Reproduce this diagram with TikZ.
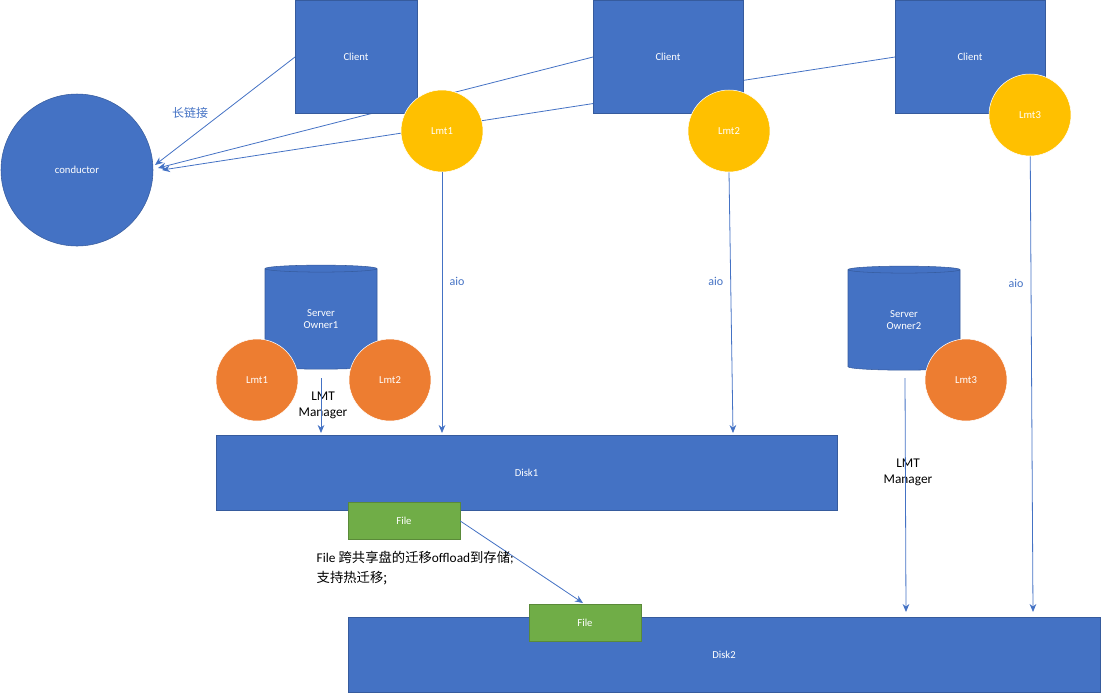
\documentclass[tikz,border=0pt]{standalone}
\usepackage{fontspec}
\setmainfont{Carlito}
\newfontfamily\cjk{Noto Sans CJK SC}
\usetikzlibrary{shapes.geometric,arrows.meta}
\definecolor{ob}{HTML}{4472C4}
\definecolor{oy}{HTML}{FFC000}
\definecolor{oo}{HTML}{ED7D31}
\definecolor{og}{HTML}{70AD47}
\begin{document}
\begin{tikzpicture}[x=0.75pt,y=-0.75pt,
  box/.style={draw=ob!80!black,fill=ob,text=white,font=\fontsize{8}{9}\selectfont,minimum width=#1*0.75pt,inner sep=0pt},
  circ/.style={circle,draw=white,fill=#1,text=white,font=\fontsize{8}{9}\selectfont,minimum size=82*0.75pt,inner sep=0pt},
  cyl/.style={cylinder,shape border rotate=90,aspect=0.2,draw=ob!80!black,fill=ob,text=white,align=center,font=\fontsize{8}{9}\selectfont,minimum width=112*0.75pt,minimum height=104*0.75pt,inner sep=0pt},
  ln/.style={draw=ob,line width=0.6pt},
  ar/.style={ln,-{Stealth[length=6pt,width=5pt]}},
  lbl/.style={text=ob,font=\fontsize{9}{10}\selectfont}]
\useasboundingbox (0,0) rectangle (1103,694);
\coordinate (cin1) at (155,165);
\coordinate (cin2) at (158,168);
\coordinate (cin3) at (162,170);
\node[circle,fill=ob,draw=ob!80!black,text=white,font=\fontsize{8}{9}\selectfont,minimum size=152*0.75pt,inner sep=0pt] (cond) at (77,170) {conductor};
\coordinate (c1s) at (295,57);
\coordinate (c2s) at (593,57);
\coordinate (c3s) at (895,57);
\draw[ar] (c1s) -- (cin1);
\draw[ar] (c2s) -- (cin2);
\draw[ar] (c3s) -- (cin3);
\node[box=122,minimum height=113*0.75pt] (cl1) at (356,56.5) {Client};
\node[box=150,minimum height=113*0.75pt] (cl2) at (668,56.5) {Client};
\node[box=150,minimum height=113*0.75pt] (cl3) at (970,56.5) {Client};
\node[lbl] (lc) at (190,113) {\cjk 长链接};
\node[circ=oy] (y1) at (442,131) {Lmt1};
\node[circ=oy] (y2) at (729,131) {Lmt2};
\node[circ=oy] (y3) at (1030,115) {Lmt3};
\node[box=621,minimum height=75*0.75pt] (d1) at (526.5,472.5) {Disk1};
\node[box=752,minimum height=75*0.75pt] (d2) at (724,654.5) {Disk2};
\coordinate (a1) at (442,433);
\coordinate (a2) at (733,433);
\coordinate (a3) at (1033,612);
\draw[ar] (y1) -- (a1) node[lbl,pos=0.42,right=2pt] {aio};
\draw[ar] (y2.south) -- (a2) node[lbl,pos=0.42,left=2pt] {aio};
\draw[ar] (y3) -- (a3) node[lbl,pos=0.28,left=2pt] {aio};
\node[cyl] (s1) at (321,319) {Server\\Owner1};
\node[cyl] (s2) at (904,320) {Server\\Owner2};
\node[circ=oo] (o1) at (257,380) {Lmt1};
\node[circ=oo] (o2) at (390,380) {Lmt2};
\node[circ=oo] (o3) at (966,380) {Lmt3};
\node[align=center,font=\fontsize{10}{12}\selectfont] (m1) at (323,405) {LMT\\Manager};
\node[align=center,font=\fontsize{10}{12}\selectfont] (m2) at (908,472) {LMT\\Manager};
\coordinate (b1) at (321,433);
\coordinate (b2) at (906,612);
\draw[ar] (321,378) -- (b1);
\draw[ar] (905,378) -- (b2);
\node[box=112,minimum height=37*0.75pt,fill=og,draw=og!80!black] (f1) at (404,521) {File};
\node[box=112,minimum height=37*0.75pt,fill=og,draw=og!80!black] (f2) at (585,622.5) {File};
\coordinate (fe) at (583,603);
\draw[ar] (f1.east) -- (fe);
\node[anchor=north west,align=left,font=\fontsize{10}{15}\selectfont] (txt) at (312,546) {File {\cjk 跨共享盘的迁移}offload{\cjk 到存储}{;}\\{\cjk 支持热迁移;}};
\end{tikzpicture}
\end{document}
